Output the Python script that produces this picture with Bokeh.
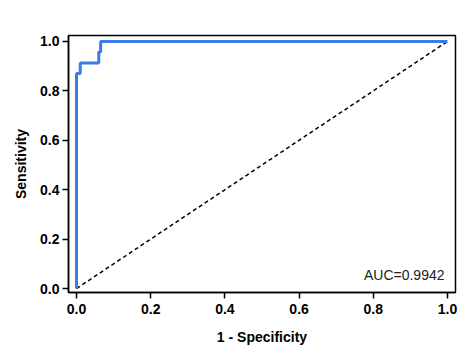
from bokeh.plotting import figure
from bokeh.models import Range1d, FixedTicker, Label
from bokeh.embed import file_html
from bokeh.resources import INLINE

# ROC curve points (1 - specificity, sensitivity)
fpr = [0.0, 0.0, 0.01, 0.01, 0.06, 0.06, 0.065, 0.065, 1.0]
tpr = [0.0, 0.87, 0.87, 0.913, 0.913, 0.957, 0.957, 1.0, 1.0]
diag_x = [0.0, 1.0]
diag_y = [0.0, 1.0]
ticks = [0.0, 0.2, 0.4, 0.6, 0.8, 1.0]
auc_text = "AUC=0.9942"

p = figure(width=458, height=348, output_backend="svg", toolbar_location=None,
           x_range=Range1d(-0.0216, 1.0216), y_range=Range1d(-0.016, 1.024),
           min_border_left=68, min_border_right=3, min_border_top=35, min_border_bottom=56)

p.line(diag_x, diag_y, line_color="black", line_width=1.5, line_dash="4 3")
p.line(fpr, tpr, line_color="#3b7de6", line_width=3)

p.grid.visible = False
p.outline_line_color = "black"
p.outline_line_width = 1.5
p.background_fill_color = "white"
p.border_fill_color = "white"

for ax in (p.xaxis[0], p.yaxis[0]):
    ax.ticker = FixedTicker(ticks=ticks)
    ax.minor_tick_line_color = None
    ax.major_tick_in = 0
    ax.major_tick_out = 6
    ax.major_tick_line_color = "black"
    ax.major_tick_line_width = 1.5
    ax.axis_line_color = "black"
    ax.axis_line_width = 1.5
    ax.major_label_text_font = "Liberation Sans"
    ax.major_label_text_font_style = "bold"
    ax.major_label_text_font_size = "14px"
    ax.major_label_text_color = "black"
    ax.axis_label_text_font = "Liberation Sans"
    ax.axis_label_text_font_style = "bold"
    ax.axis_label_text_font_size = "14px"
    ax.axis_label_text_color = "black"

p.xaxis[0].axis_label = "1 - Specificity"
p.yaxis[0].axis_label = "Sensitivity"
p.xaxis[0].major_label_standoff = 5
p.yaxis[0].major_label_standoff = 3
p.xaxis[0].axis_label_standoff = 12
p.yaxis[0].axis_label_standoff = 8
p.xaxis[0].major_label_overrides = {t: f"{t:.1f}" for t in ticks}
p.yaxis[0].major_label_overrides = {t: f"{t:.1f}" for t in ticks}

p.add_layout(Label(x=0.992, y=0.053, text=auc_text, text_align="right", text_baseline="middle",
                   text_font="Liberation Sans", text_font_size="14px", text_color="#222222"))

open("out.html", "w").write(file_html(p, INLINE))
